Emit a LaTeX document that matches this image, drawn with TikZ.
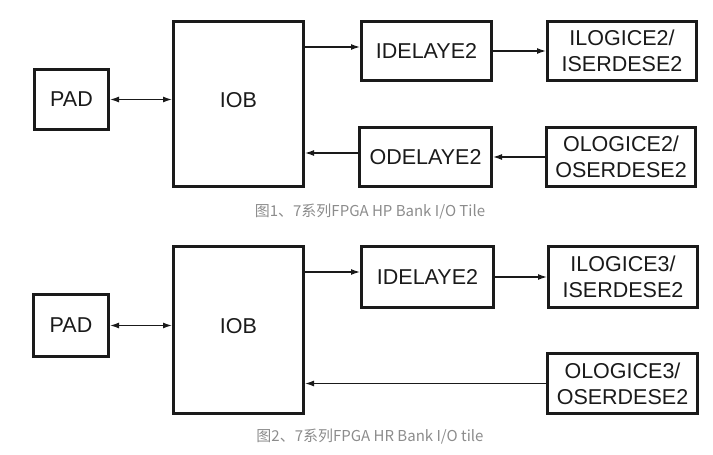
\documentclass[tikz,border=0pt]{standalone}
\usepackage{fontspec}
\setmainfont{Liberation Sans}
\newfontfamily\cjk{Noto Sans CJK SC}
\usepackage{tikz}
\usetikzlibrary{positioning,arrows.meta,calc}
\usepackage{xcolor}
\definecolor{ink}{HTML}{1A1A1A}
\definecolor{muted}{HTML}{8C8C8C}

\begin{document}
\begin{tikzpicture}[x=1bp, y=-1bp,
    blk/.style={draw=ink, line width=3bp, inner sep=0pt, align=center,
      font=\fontsize{21.5bp}{26bp}\selectfont, text=ink},
    arr/.style={draw=ink, line width=1.3bp, -{Latex[length=9bp,width=6bp]}},
    biarr/.style={draw=ink, line width=1.3bp, {Latex[length=9bp,width=6bp]}-{Latex[length=9bp,width=6bp]}},
    figcap/.style={font=\cjk\fontsize{15bp}{18bp}\selectfont, text=muted}]
  \useasboundingbox (0,0) rectangle (713,455);

  % HP bank
  \node[blk, minimum width=74bp, minimum height=60bp] (pad1) at (71.5,99.5) {PAD};
  \node[blk, minimum width=130bp, minimum height=165bp, text depth=8bp] (iob1) at (238.5,104) {IOB};
  \node[blk, minimum width=130bp, minimum height=59bp] (idl1) at (426.5,51) {IDELAYE2};
  \node[blk, minimum width=149bp, minimum height=59bp] (ilg1) at (622,51) {ILOGICE2/\\ISERDESE2};
  \node[blk, minimum width=132bp, minimum height=59bp] (odl1) at (425.5,157) {ODELAYE2};
  \node[blk, minimum width=149bp, minimum height=59bp] (olg1) at (621,157) {OLOGICE2/\\OSERDESE2};
  \coordinate (in1) at ([yshift=4bp]idl1.west);
  \coordinate (out1) at ([yshift=4bp]odl1.east);
  \draw[biarr] (pad1.east) -- (iob1.west |- pad1.east);
  \draw[arr] (iob1.east |- in1) -- (in1);
  \draw[arr] (idl1) -- (ilg1);
  \draw[arr] (olg1) -- (odl1);
  \draw[arr] (odl1.west |- out1) -- (iob1.east |- out1);
  \node[figcap] (cap1) at (370,212) {图1、7系列FPGA HP Bank I/O Tile};

  % HR bank
  \node[blk, minimum width=75bp, minimum height=62bp] (pad2) at (71,325.5) {PAD};
  \node[blk, minimum width=130bp, minimum height=167bp, text depth=9bp] (iob2) at (238.5,330) {IOB};
  \node[blk, minimum width=132bp, minimum height=61bp] (idl2) at (427.5,277) {IDELAYE2};
  \node[blk, minimum width=149bp, minimum height=61bp] (ilg2) at (623,277) {ILOGICE3/\\ISERDESE2};
  \node[blk, minimum width=150bp, minimum height=60bp] (olg2) at (622.5,383.5) {OLOGICE3/\\OSERDESE2};
  \coordinate (in2) at ([yshift=5bp]idl2.west);
  \draw[biarr] (pad2.east) -- (iob2.west |- pad2.east);
  \draw[arr] (iob2.east |- in2) -- (in2);
  \draw[arr] (idl2) -- (ilg2);
  \draw[arr] (olg2) -- (iob2.east |- olg2);
  \node[figcap] (cap2) at (370,437) {图2、7系列FPGA HR Bank I/O tile};
\end{tikzpicture}
\end{document}
